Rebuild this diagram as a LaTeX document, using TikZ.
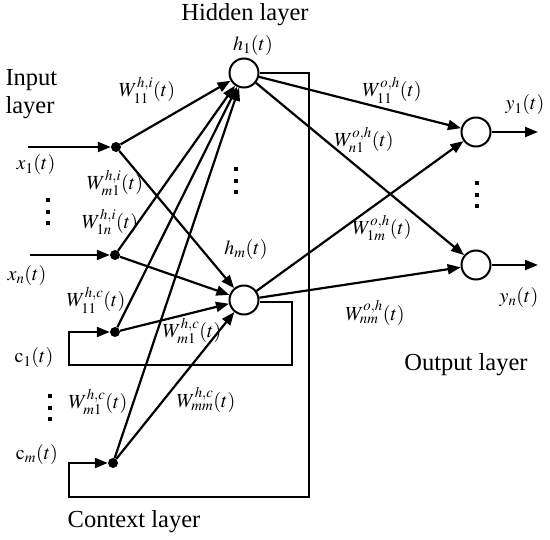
\documentclass[tikz,border=0pt]{standalone}
\usepackage{mathptmx}
\usepackage{fontspec}
\setmainfont{Liberation Serif}
\usetikzlibrary{arrows.meta,positioning}

\newcommand{\dotcol}{\vbox{\offinterlineskip\hbox{\rule{4.5pt}{4pt}}\vskip7.5pt\hbox{\rule{4.5pt}{4pt}}\vskip7.5pt\hbox{\rule{4.5pt}{4pt}}}}

\tikzset{
  neuron/.style={draw, circle, line width=2pt, minimum size=29pt, inner sep=0pt, fill=white},
  junction/.style={circle, fill, inner sep=0pt, minimum size=10pt},
  wire/.style={line width=2.2pt},
  feed/.style={wire, -{Triangle[length=13pt,width=10pt]}},
  weight/.style={font=\fontsize{20}{24}\selectfont, inner sep=1pt},
}

\begin{document}
\begin{tikzpicture}[x=1pt, y=-1pt, font=\fontsize{24.5}{28}\selectfont]
  \useasboundingbox (0,0) rectangle (550,540);
  % neurons
  \node[neuron] (H1) at (244,73) {};
  \node[neuron] (Hm) at (244,300) {};
  \node[neuron] (Y1) at (476,132) {};
  \node[neuron] (Yn) at (476,265) {};
  % input and context junctions
  \node[junction] (X1) at (116,147) {};
  \node[junction] (Xn) at (115,255) {};
  \node[junction] (C1) at (115,332) {};
  \node[junction] (Cm) at (113,463) {};
  \coordinate (X1in) at (28,147);
  \coordinate (Xnin) at (30,255);
  \coordinate (Y1out) at (538,132);
  \coordinate (Ynout) at (538,265);
  \coordinate (R1) at (309,497);
  \coordinate (L1) at (69,497);
  \coordinate (R2) at (292,365);
  \coordinate (L2) at (69,365);

  \draw[feed] (X1in) -- (X1);
  \draw[feed] (Xnin) -- (Xn);
  \draw[feed] (H1.east) -| (R1) -- (L1) |- (Cm);
  \draw[feed] ([yshift=-2pt]Hm.east) -| (R2) -- (L2) |- (C1);

  \draw[feed] (X1) -- (H1);
  \draw[feed] (Xn) -- (H1);
  \draw[feed] (C1) -- (H1);
  \draw[feed] (Cm) -- (H1);
  \draw[feed] (X1) -- (Hm);
  \draw[feed] (Xn) -- (Hm);
  \draw[feed] (C1) -- (Hm);
  \draw[feed] (Cm) -- (Hm);

  \draw[feed] (H1) -- (Y1);
  \draw[feed] (H1) -- (Yn);
  \draw[feed] (Hm) -- (Y1);
  \draw[feed] (Hm) -- (Yn);
  \draw[feed] (Y1) -- (Y1out);
  \draw[feed] (Yn) -- (Ynout);

  % layer names
  \node (hidden) at (245,15) {Hidden layer};
  \node[align=left, anchor=west] (input) at (2,94) {Input\\layer};
  \node (context) at (134,522) {Context layer};
  \node (output) at (466,365) {Output layer};

  % signals
  \node[weight, above=1pt of H1, xshift=9pt] (h1) {$h_1(t)$};
  \node[weight] (hm) at (246,250) {$h_m(t)$};
  \node[weight] (x1) at (36,165) {$x_1(t)$};
  \node[weight] (xn) at (27,276) {$x_n(t)$};
  \node[weight] (c1) at (34,358) {$\mathrm{c}_1(t)$};
  \node[weight] (cm) at (37,455) {$\mathrm{c}_m(t)$};
  \node[weight] (y1) at (525,105) {$y_1(t)$};
  \node[weight] (yn) at (519,298) {$y_n(t)$};

  % weights
  \node[weight] (w11i) at (147,90) {$W^{h,i}_{11}(t)$};
  \node[weight] (wm1i) at (115,183) {$W^{h,i}_{m1}(t)$};
  \node[weight] (w1ni) at (110,222) {$W^{h,i}_{1n}(t)$};
  \node[weight] (w11c) at (96,300) {$W^{h,c}_{11}(t)$};
  \node[weight] (wm1c) at (192,331) {$W^{h,c}_{m1}(t)$};
  \node[weight] (wm1cb) at (98,402) {$W^{h,c}_{m1}(t)$};
  \node[weight] (wmmc) at (206,400) {$W^{h,c}_{mm}(t)$};
  \node[weight] (w11o) at (392,90) {$W^{o,h}_{11}(t)$};
  \node[weight] (wn1o) at (364,140) {$W^{o,h}_{n1}(t)$};
  \node[weight] (w1mo) at (382,228) {$W^{o,h}_{1m}(t)$};
  \node[weight] (wnmo) at (375,313) {$W^{o,h}_{nm}(t)$};

  % dots
  \node (d1) at (48,212) {\dotcol};
  \node (d2) at (50,408) {\dotcol};
  \node (d3) at (236,181) {\dotcol};
  \node (d4) at (477,195) {\dotcol};
\end{tikzpicture}
\end{document}
